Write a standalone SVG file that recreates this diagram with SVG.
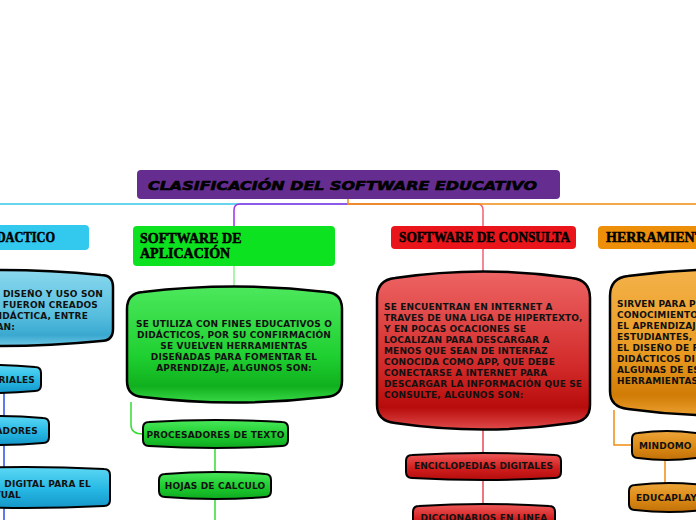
<svg xmlns="http://www.w3.org/2000/svg" width="696" height="520" viewBox="0 0 696 520">
<defs>
<linearGradient id="gDesc" x1="0" y1="0" x2="0" y2="1"><stop offset="0" stop-color="#4ce85c"/><stop offset="0.6" stop-color="#1fd031"/><stop offset="0.86" stop-color="#10b01e"/><stop offset="1" stop-color="#38d848"/></linearGradient>
<linearGradient id="rDesc" x1="0" y1="0" x2="0" y2="1"><stop offset="0" stop-color="#ee6464"/><stop offset="0.6" stop-color="#d22a2a"/><stop offset="0.86" stop-color="#b80c0c"/><stop offset="1" stop-color="#e04a4a"/></linearGradient>
<linearGradient id="cDesc" x1="0" y1="0" x2="0" y2="1"><stop offset="0" stop-color="#8ad8ee"/><stop offset="0.6" stop-color="#56bede"/><stop offset="0.86" stop-color="#3aa8d0"/><stop offset="1" stop-color="#70c8e4"/></linearGradient>
<linearGradient id="oDesc" x1="0" y1="0" x2="0" y2="1"><stop offset="0" stop-color="#f4b24a"/><stop offset="0.6" stop-color="#e8981e"/><stop offset="0.86" stop-color="#d07c06"/><stop offset="1" stop-color="#eca030"/></linearGradient>
<linearGradient id="gNode" x1="0" y1="0" x2="0" y2="1"><stop offset="0" stop-color="#4ae85a"/><stop offset="0.55" stop-color="#1ccc2e"/><stop offset="1" stop-color="#0fa81f"/></linearGradient>
<linearGradient id="rNode" x1="0" y1="0" x2="0" y2="1"><stop offset="0" stop-color="#ee5a5a"/><stop offset="0.55" stop-color="#d21e1e"/><stop offset="1" stop-color="#b40c0c"/></linearGradient>
<linearGradient id="cNode" x1="0" y1="0" x2="0" y2="1"><stop offset="0" stop-color="#5cd8f4"/><stop offset="0.55" stop-color="#26b8e4"/><stop offset="1" stop-color="#1496c8"/></linearGradient>
<linearGradient id="oNode" x1="0" y1="0" x2="0" y2="1"><stop offset="0" stop-color="#eca43a"/><stop offset="0.55" stop-color="#dc8a14"/><stop offset="1" stop-color="#c07008"/></linearGradient>
</defs>
<style>
.hdr{font-family:"Liberation Serif","DejaVu Serif",serif;font-weight:bold;font-size:14px;fill:#000;stroke:#000;stroke-width:0.5}
.txt{font-family:"DejaVu Sans","Verdana",sans-serif;font-weight:bold;font-size:9px;letter-spacing:0.15px;fill:#111}
.desc{stroke:#000;stroke-width:2.5}
.node{stroke:#000;stroke-width:2}
.ln{fill:none;stroke-width:1.5}
</style>
<rect width="696" height="520" fill="#fff"/>
<g id="connectors">
<path class="ln" stroke="#33c8e8" d="M348 204 H-10"/>
<path class="ln" stroke="#9b30e8" d="M348 204 H240 Q234 204 234 210 V226"/>
<path class="ln" stroke="#f06070" d="M348 204 H477 Q483 204 483 210 V226"/>
<path class="ln" stroke="#ee8c10" d="M348 199 V204 H700"/>
<path class="ln" stroke="#90f090" d="M234 266 V287"/>
<path class="ln" stroke="#33dd33" d="M131 402 V425 Q131 434 143 434"/>
<path class="ln" stroke="#33dd33" d="M215 448 V472 M215 499 V520"/>
<path class="ln" stroke="#f06070" d="M483 249 V272"/>
<path class="ln" stroke="#e84855" d="M483 429 V453 M483 480 V504"/>
<path class="ln" stroke="#ee8c10" d="M614 410 V445 H632 M665 460 V483"/>
<path class="ln" stroke="#2a50e8" d="M4 393 V416 M4 445 V467 M4 508 V520"/>
</g>
<g id="root">
<rect x="137" y="170" width="423" height="29" rx="4" fill="#652d90"/>
<text x="148" y="190" font-family="DejaVu Sans, sans-serif" font-weight="bold" font-style="italic" font-size="13" fill="#000" stroke="#000" stroke-width="0.6" textLength="389" lengthAdjust="spacingAndGlyphs">CLASIFICACIÓN DEL SOFTWARE EDUCATIVO</text>
</g>
<g id="didactico">
<rect x="-20" y="225" width="109" height="25" rx="4" fill="#33c9ee"/>
<text class="hdr" x="55" y="242" text-anchor="end" textLength="72" lengthAdjust="spacingAndGlyphs">DIDACTICO</text>
</g>
<g id="didactico-desc">
<path class="desc" fill="url(#cDesc)" d="M-100 275 Q0.5 265 101 275 Q113 275 113 287 L113 329 Q113 341 101 341 Q0.5 351 -100 341 Q-112 341 -112 329 L-112 287 Q-112 275 -100 275Z"/>
<text class="txt" text-anchor="end"><tspan x="103" y="297">O DISEÑO Y USO SON</tspan><tspan x="98" y="308">R FUERON CREADOS</tspan><tspan x="88" y="319">IDÁCTICA, ENTRE</tspan><tspan x="15" y="330">AN:</tspan></text>
</g>
<g id="c1">
<path class="node" fill="url(#cNode)" d="M-54 367 Q-9.5 363 35 367 Q41 367 41 373 L41 385 Q41 391 35 391 Q-9.5 395 -54 391 Q-60 391 -60 385 L-60 373 Q-60 367 -54 367Z"/>
<text class="txt" x="35" y="383" text-anchor="end">RIALES</text>
</g>
<g id="c2">
<path class="node" fill="url(#cNode)" d="M-54 418 Q-5.5 414 43 418 Q49 418 49 424 L49 437 Q49 443 43 443 Q-5.5 447 -54 443 Q-60 443 -60 437 L-60 424 Q-60 418 -54 418Z"/>
<text class="txt" x="38" y="434" text-anchor="end">ADORES</text>
</g>
<g id="c3">
<path class="node" fill="url(#cNode)" d="M-54 469 Q25 465 104 469 Q110 469 110 475 L110 500 Q110 506 104 506 Q25 510 -54 506 Q-60 506 -60 500 L-60 475 Q-60 469 -54 469Z"/>
<text class="txt" text-anchor="end"><tspan x="91" y="487">DIGITAL PARA EL</tspan><tspan x="21" y="498">TUAL</tspan></text>
</g>
<g id="aplicacion">
<rect x="133" y="226" width="202" height="40" rx="4" fill="#0ce21f"/>
<text class="hdr"><tspan x="140" y="243">SOFTWARE DE</tspan><tspan x="140" y="258">APLICACIÓN</tspan></text>
</g>
<g id="aplicacion-desc">
<path class="desc" fill="url(#gDesc)" d="M143 292 Q234.5 281 326 292 Q342 293 342 309 L342 381 Q342 396 326 397 Q234.5 408 143 397 Q127 396 127 381 L127 309 Q127 293 143 292Z"/>
<text class="txt" text-anchor="middle"><tspan x="234" y="327">SE UTILIZA CON FINES EDUCATIVOS O</tspan><tspan x="234" y="338">DIDÁCTICOS, POR SU CONFIRMACIÓN</tspan><tspan x="234" y="349">SE VUELVEN HERRAMIENTAS</tspan><tspan x="234" y="360">DISEÑADAS PARA FOMENTAR EL</tspan><tspan x="234" y="371">APRENDIZAJE, ALGUNOS SON:</tspan></text>
</g>
<g id="procesadores">
<path class="node" fill="url(#gNode)" d="M149 422 Q215.5 418 282 422 Q288 422 288 428 L288 440 Q288 446 282 446 Q215.5 450 149 446 Q143 446 143 440 L143 428 Q143 422 149 422Z"/>
<text class="txt" x="215.5" y="438" text-anchor="middle">PROCESADORES DE TEXTO</text>
</g>
<g id="hojas">
<path class="node" fill="url(#gNode)" d="M165 474 Q215 470 265 474 Q271 474 271 480 L271 491 Q271 497 265 497 Q215 501 165 497 Q159 497 159 491 L159 480 Q159 474 165 474Z"/>
<text class="txt" x="215" y="489" text-anchor="middle">HOJAS DE CALCULO</text>
</g>
<g id="consulta">
<rect x="391" y="226" width="185" height="23" rx="4" fill="#e9151b"/>
<text class="hdr" x="399" y="242" textLength="171" lengthAdjust="spacingAndGlyphs">SOFTWARE DE CONSULTA</text>
</g>
<g id="consulta-desc">
<path class="desc" fill="url(#rDesc)" d="M395 278 Q483.5 265 572 278 Q590 280 590 298 L590 405 Q590 421 572 423 Q483.5 436 395 423 Q377 421 377 405 L377 298 Q377 280 395 278Z"/>
<text class="txt"><tspan x="384" y="310">SE ENCUENTRAN EN INTERNET A</tspan><tspan x="384" y="321">TRAVES DE UNA LIGA DE HIPERTEXTO,</tspan><tspan x="384" y="332">Y EN POCAS OCACIONES SE</tspan><tspan x="384" y="343">LOCALIZAN PARA DESCARGAR A</tspan><tspan x="384" y="354">MENOS QUE SEAN DE INTERFAZ</tspan><tspan x="384" y="365">CONOCIDA COMO APP, QUE DEBE</tspan><tspan x="384" y="376">CONECTARSE A INTERNET PARA</tspan><tspan x="384" y="387">DESCARGAR LA INFORMACIÓN QUE SE</tspan><tspan x="384" y="398">CONSULTE, ALGUNOS SON:</tspan></text>
</g>
<g id="enciclopedias">
<path class="node" fill="url(#rNode)" d="M412 455 Q483.5 451 555 455 Q561 455 561 461 L561 472 Q561 478 555 478 Q483.5 482 412 478 Q406 478 406 472 L406 461 Q406 455 412 455Z"/>
<text class="txt" x="483.5" y="469" text-anchor="middle">ENCICLOPEDIAS DIGITALES</text>
</g>
<g id="diccionarios">
<path class="node" fill="url(#rNode)" d="M419 506 Q484 502 549 506 Q555 506 555 512 L555 524 Q555 530 549 530 Q484 534 419 530 Q413 530 413 524 L413 512 Q413 506 419 506Z"/>
<text class="txt" x="484" y="521" text-anchor="middle">DICCIONARIOS EN LINEA</text>
</g>
<g id="herramientas">
<rect x="598" y="226" width="120" height="23" rx="4" fill="#ee8f0a"/>
<text class="hdr" x="606" y="242">HERRAMIENTAS</text>
</g>
<g id="herramientas-desc">
<path class="desc" fill="url(#oDesc)" d="M628 276 Q720 263 812 276 Q830 278 830 296 L830 391 Q830 407 812 409 Q720 422 628 409 Q610 407 610 391 L610 296 Q610 278 628 276Z"/>
<text class="txt"><tspan x="617" y="307">SIRVEN PARA P</tspan><tspan x="617" y="318">CONOCIMIENTO</tspan><tspan x="617" y="329">EL APRENDIZAJ</tspan><tspan x="617" y="340">ESTUDIANTES, Y</tspan><tspan x="617" y="351">EL DISEÑO DE R</tspan><tspan x="617" y="362">DIDÁCTICOS DI</tspan><tspan x="617" y="373">ALGUNAS DE ES</tspan><tspan x="617" y="384">HERRAMIENTAS</tspan></text>
</g>
<g id="mindomo">
<path class="node" fill="url(#oNode)" d="M638 433 Q667 429 696 433 Q702 433 702 439 L702 452 Q702 458 696 458 Q667 462 638 458 Q632 458 632 452 L632 439 Q632 433 638 433Z"/>
<text class="txt" x="639" y="449">MINDOMO</text>
</g>
<g id="educaplay">
<path class="node" fill="url(#oNode)" d="M635 485 Q669 481 703 485 Q709 485 709 491 L709 504 Q709 510 703 510 Q669 514 635 510 Q629 510 629 504 L629 491 Q629 485 635 485Z"/>
<text class="txt" x="636" y="501">EDUCAPLAY</text>
</g>
</svg>
